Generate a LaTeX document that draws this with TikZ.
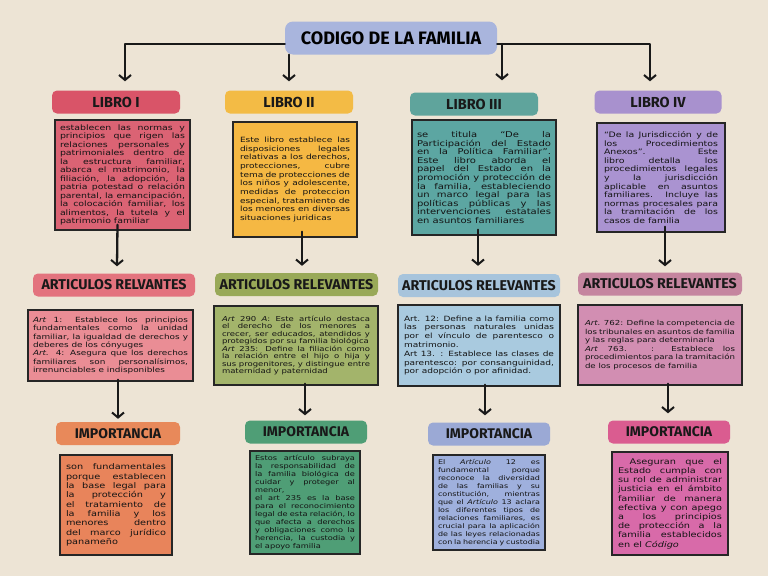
\documentclass[tikz,border=0pt]{standalone}
\usepackage{fontspec}
\setmainfont{DejaVu Sans}[FakeStretch=1.25]
\newfontfamily\headfont{Fira Sans}
\usetikzlibrary{arrows.meta}
\definecolor{bg}{HTML}{EDE4D5}
\definecolor{ctitle}{HTML}{A9B5DD}
\definecolor{hA}{HTML}{D95468}
\definecolor{hB}{HTML}{F3BB45}
\definecolor{hC}{HTML}{5FA49C}
\definecolor{hD}{HTML}{A891CE}
\definecolor{tA}{HTML}{DB6374}
\definecolor{tB}{HTML}{F5B843}
\definecolor{tC}{HTML}{5CA6A2}
\definecolor{tD}{HTML}{AA93D1}
\definecolor{aA}{HTML}{E3737E}
\definecolor{aB}{HTML}{99A958}
\definecolor{aC}{HTML}{A7C4DC}
\definecolor{aD}{HTML}{C5859F}
\definecolor{bA}{HTML}{EA8D95}
\definecolor{bB}{HTML}{A3B46B}
\definecolor{bC}{HTML}{A9CADF}
\definecolor{bD}{HTML}{D28EB2}
\definecolor{iA}{HTML}{E8895A}
\definecolor{iB}{HTML}{4F9E76}
\definecolor{iC}{HTML}{9BA9D5}
\definecolor{iD}{HTML}{DA5C90}
\definecolor{cA}{HTML}{E8845B}
\definecolor{cB}{HTML}{4F9E76}
\definecolor{cC}{HTML}{9FB0DD}
\definecolor{cD}{HTML}{D86AA9}
\newcommand\bxf[2]{\fontsize{#1}{#2}\selectfont}
\begin{document}
\hyphenpenalty=10000
\exhyphenpenalty=10000
\pretolerance=-1
\tolerance=9999
\emergencystretch=1em
\hbadness=10000
\begin{tikzpicture}[x=1pt,y=-1pt,
  head/.style={rounded corners=5pt, minimum height=23pt, inner sep=2pt,
    font=\headfont\bfseries\fontsize{14.5}{14}\selectfont, text=black!90},
  headart/.style={head, font=\headfont\bfseries\fontsize{14.2}{14}\selectfont},
  headimp/.style={head, font=\headfont\bfseries\fontsize{14}{14}\selectfont},
  tbox/.style={draw=black!85, line width=1.4pt, inner sep=4pt, align=justify,
    text=black!92},
  arr/.style={line width=2.3pt, draw=black!90, line cap=round, line join=round,
    -{Straight Barb[length=5pt,width=12pt,line width=2pt]}}]
\fill[bg] (0,0) rectangle (768,576);
% title
\node[rounded corners=8pt, fill=ctitle, minimum width=212pt, minimum height=33pt,
  font=\headfont\bfseries\fontsize{18}{18}\selectfont] (title) at (391,38) {CODIGO DE LA FAMILIA};
% row 1 headers
\node[head, fill=hA, minimum width=128pt] (L1) at (116,102) {LIBRO I};
\node[head, fill=hB, minimum width=128pt] (L2) at (289,102) {LIBRO II};
\node[head, fill=hC, minimum width=128pt] (L3) at (474,104) {LIBRO III};
\node[head, fill=hD, minimum width=127pt] (L4) at (658,102) {LIBRO IV};
% row 1 texts
\node[tbox, fill=tA, minimum width=135pt, minimum height=110pt, text width=125pt, font=\bxf{7.5}{8.5}] (T1) at (122.5,175)
{establecen las normas y principios que rigen las relaciones personales y patrimoniales dentro de la estructura familiar, abarca el matrimonio, la filiación, la adopción, la patria potestad o relación parental, la emancipación, la colocación familiar, los alimentos, la tutela y el patrimonio familiar};
\node[tbox, fill=tB, minimum width=124pt, minimum height=115pt, text width=110pt, font=\bxf{7.2}{8.7}] (T2) at (295,179.5)
{Este libro establece las disposiciones legales relativas a los derechos, protecciones, cubre tema de protecciones de los niños y adolescente, medidas de proteccion especial, tratamiento de los menores en diversas situaciones juridicas};
\node[tbox, fill=tC, minimum width=144pt, minimum height=115pt, text width=134pt, font=\bxf{8.0}{8.6}] (T3) at (484,177.5)
{se titula ``De la Participación del Estado en la Política Familiar''. Este libro aborda el papel del Estado en la promoción y protección de la familia, estableciendo un marco legal para las políticas públicas y las intervenciones estatales en asuntos familiares};
\node[tbox, fill=tD, minimum width=128pt, minimum height=109pt, text width=114pt, font=\bxf{7.5}{8.6}] (T4) at (661,177.5)
{``De la Jurisdicción y de los Procedimientos Anexos''. Este libro detalla los procedimientos legales y la jurisdicción aplicable en asuntos familiares. Incluye las normas procesales para la tramitación de los casos de familia};
% row 2 headers
\node[headart, fill=aA, minimum width=162pt] (A1) at (114,285) {ARTICULOS RELVANTES};
\node[headart, fill=aB, minimum width=163pt] (A2) at (296.5,284.5) {ARTICULOS RELEVANTES};
\node[headart, fill=aC, minimum width=162pt] (A3) at (479,285.5) {ARTICULOS RELEVANTES};
\node[headart, fill=aD, minimum width=164pt] (A4) at (660,284) {ARTICULOS RELEVANTES};
% row 2 texts
\node[tbox, fill=bA, minimum width=165pt, minimum height=71pt, text width=155pt, font=\bxf{7.1}{8.3}] (B1) at (110.5,345.5)
{\emph{Art} 1: Establece los principios fundamentales como la unidad familiar, la igualdad de derechos y deberes de los cónyuges\par \emph{Art.} 4: Asegura que los derechos familiares son personalísimos, irrenunciables e indisponibles};
\node[tbox, fill=bB, minimum width=164pt, minimum height=79pt, text width=148pt, font=\bxf{6.8}{7.5}] (B2) at (296,345.5)
{\emph{Art} 290 \emph{A}: Este artículo destaca el derecho de los menores a crecer, ser educados, atendidos y protegidos por su familia biológica\par \emph{Art} 235: Define la filiación como la relación entre el hijo o hija y sus progenitores, y distingue entre maternidad y paternidad};
\node[tbox, fill=bC, minimum width=162pt, minimum height=81pt, text width=150pt, font=\bxf{7.2}{8.8}] (B3) at (479,345.5)
{Art. 12: Define a la familia como las personas naturales unidas por el vínculo de parentesco o matrimonio.\par Art 13. : Establece las clases de parentesco: por consanguinidad, por adopción o por afinidad.};
\node[tbox, fill=bD, minimum width=164pt, minimum height=80pt, text width=150pt, font=\bxf{6.9}{8.6}] (B4) at (660,345)
{\emph{Art.} 762: Define la competencia de los tribunales en asuntos de familia y las reglas para determinarla\par \emph{Art} 763. : Establece los procedimientos para la tramitación de los procesos de familia};
% row 3 headers
\node[headimp, fill=iA, minimum width=124pt] (I1) at (118,433.5) {IMPORTANCIA};
\node[headimp, fill=iB, minimum width=122pt] (I2) at (306,432) {IMPORTANCIA};
\node[headimp, fill=iC, minimum width=122pt] (I3) at (489,434) {IMPORTANCIA};
\node[headimp, fill=iD, minimum width=122pt] (I4) at (669,432) {IMPORTANCIA};
% row 3 texts
\node[tbox, fill=cA, minimum width=112pt, minimum height=100pt, text width=100pt, font=\bxf{7.8}{9.3}] (C1) at (116,505)
{son fundamentales porque establecen la base legal para la protección y el tratamiento de la familia y los menores dentro del marco jurídico panameño};
\node[tbox, fill=cB, minimum width=110pt, minimum height=101pt, text width=100pt, font=\bxf{6.6}{8.0}] (C2) at (305,502.5)
{Estos artículo subraya la responsabilidad de la familia biológica de cuidar y proteger al menor,\par el art 235 es la base para el reconocimiento legal de esta relación, lo que afecta a derechos y obligaciones como la herencia, la custodia y el apoyo familia};
\node[tbox, fill=cC, minimum width=112pt, minimum height=95pt, text width=102pt, font=\bxf{6.4}{8.0}] (C3) at (489,502.5)
{El \emph{Artículo} 12 es fundamental porque reconoce la diversidad de las familias y su constitución, mientras que el \emph{Artículo} 13 aclara los diferentes tipos de relaciones familiares, es crucial para la aplicación de las leyes relacionadas con la herencia y custodia};
\node[tbox, fill=cD, minimum width=116pt, minimum height=103pt, text width=104pt, font=\bxf{7.8}{9.2}] (C4) at (670,503.5)
{\hspace*{1.5em}Aseguran que el Estado cumpla con su rol de administrar justicia en el ámbito familiar de manera efectiva y con apego a los principios de protección a la familia establecidos en el \emph{Código}};
% connectors from title
\draw[arr] ([yshift=-6pt]title.west) -| ([xshift=9pt,yshift=9pt]L1.north);
\draw[arr] (title.south -| L2.north) -- ([yshift=9pt]L2.north);
\draw[arr] ([xshift=111pt,yshift=-6pt]title.center) -- ([xshift=28pt,yshift=12pt]L3.north);
\draw[arr] ([yshift=-6pt]title.east) -| ([xshift=-8pt,yshift=9pt]L4.north);
% row1 -> row2
\draw[arr] ([xshift=-5pt,yshift=6pt]T1.south) -- ([xshift=3pt,yshift=7pt]A1.north);
\draw[arr] ([xshift=7pt,yshift=6pt]T2.south) -- ([xshift=5.5pt,yshift=7pt]A2.north);
\draw[arr] ([xshift=-6pt,yshift=6pt]T3.south) -- ([xshift=-1pt,yshift=8pt]A3.north);
\draw[arr] ([xshift=4pt,yshift=6pt]T4.south) -- ([xshift=5pt,yshift=6pt]A4.north);
% row2 -> row3
\draw[arr] ([xshift=7.5pt,yshift=2pt]B1.south) -- ([xshift=0pt,yshift=3pt]I1.north);
\draw[arr] ([xshift=9pt,yshift=2pt]B2.south) -- ([xshift=-1pt,yshift=5pt]I2.north);
\draw[arr] ([xshift=6pt,yshift=2pt]B3.south) -- ([xshift=-4pt,yshift=7pt]I3.north);
\draw[arr] ([xshift=8pt,yshift=2pt]B4.south) -- ([xshift=-1pt,yshift=7pt]I4.north);
\end{tikzpicture}
\end{document}
